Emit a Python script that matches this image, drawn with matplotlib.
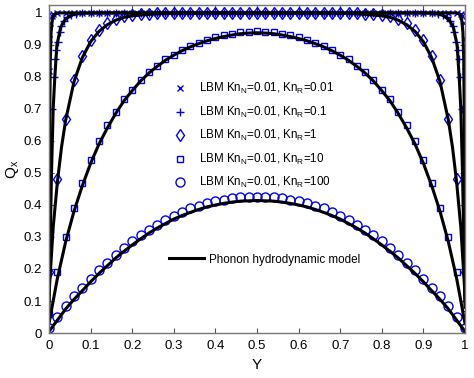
import numpy as np
import matplotlib
matplotlib.use("Agg")
from matplotlib import pyplot as plt

plt.rcParams['font.family'] = ['Liberation Sans', 'DejaVu Sans']
plt.rcParams['mathtext.fontset'] = 'custom'
plt.rcParams['mathtext.rm'] = 'Liberation Sans'
plt.rcParams['mathtext.it'] = 'Liberation Sans:italic'

# сетка LBM (шаг 0.02)
y_grid = [0.00, 0.02, 0.04, 0.06, 0.08, 0.10, 0.12, 0.14, 0.16, 0.18,
          0.20, 0.22, 0.24, 0.26, 0.28, 0.30, 0.32, 0.34, 0.36, 0.38,
          0.40, 0.42, 0.44, 0.46, 0.48, 0.50, 0.52, 0.54, 0.56, 0.58,
          0.60, 0.62, 0.64, 0.66, 0.68, 0.70, 0.72, 0.74, 0.76, 0.78,
          0.80, 0.82, 0.84, 0.86, 0.88, 0.90, 0.92, 0.94, 0.96, 0.98, 1.00]
y_mid = y_grid[6:45]   # 0.12 ... 0.88
q_mid = [1.0, 1.0, 1.0, 1.0, 1.0, 1.0, 1.0, 1.0, 1.0, 1.0,
         1.0, 1.0, 1.0, 1.0, 1.0, 1.0, 1.0, 1.0, 1.0, 1.0,
         1.0, 1.0, 1.0, 1.0, 1.0, 1.0, 1.0, 1.0, 1.0, 1.0,
         1.0, 1.0, 1.0, 1.0, 1.0, 1.0, 1.0, 1.0, 1.0]

# LBM, Kn_R = 0.01 (крестики)
y_r001 = [0.0, 0.001, 0.003, 0.006, 0.01, 0.02, 0.04, 0.06, 0.08, 0.10] + y_mid + \
         [0.90, 0.92, 0.94, 0.96, 0.98, 0.99, 0.994, 0.997, 0.999, 1.0]
q_r001 = [0.82, 0.92, 0.97, 0.99, 0.997, 1.0, 1.0, 1.0, 1.0, 1.0] + q_mid + \
         [1.0, 1.0, 1.0, 1.0, 1.0, 0.997, 0.99, 0.97, 0.92, 0.82]

# LBM, Kn_R = 0.1 (плюсы)
y_r01 = [0.008, 0.011, 0.014, 0.018, 0.022, 0.026, 0.03, 0.036, 0.044, 0.054, 0.066, 0.08, 0.10] + y_mid + \
        [0.90, 0.92, 0.934, 0.946, 0.956, 0.964, 0.97, 0.974, 0.978, 0.982, 0.986, 0.989, 0.992]
q_r01 = [0.70, 0.80, 0.855, 0.885, 0.91, 0.94, 0.96, 0.975, 0.986, 0.993, 0.997, 0.999, 1.0] + q_mid + \
        [1.0, 0.999, 0.997, 0.993, 0.986, 0.975, 0.96, 0.94, 0.91, 0.885, 0.855, 0.80, 0.70]

# LBM, Kn_R = 1 (ромбы)
q_r1 = [0.19, 0.48, 0.67, 0.79, 0.865, 0.915, 0.947, 0.968, 0.982, 0.99,
        0.994, 0.997, 0.998, 0.999, 1.0, 1.0, 1.0, 1.0, 1.0, 1.0,
        1.0, 1.0, 1.0, 1.0, 1.0, 1.0, 1.0, 1.0, 1.0, 1.0,
        1.0, 1.0, 1.0, 1.0, 1.0, 1.0, 1.0, 0.999, 0.998, 0.997,
        0.994, 0.99, 0.982, 0.968, 0.947, 0.915, 0.865, 0.79, 0.67, 0.48, 0.19]

# LBM, Kn_R = 10 (квадраты)
q_r10 = [0.06, 0.19, 0.30, 0.39, 0.47, 0.54, 0.60, 0.65, 0.69, 0.73,
         0.76, 0.79, 0.815, 0.835, 0.855, 0.87, 0.885, 0.897, 0.907, 0.916,
         0.924, 0.93, 0.935, 0.939, 0.941, 0.942, 0.941, 0.939, 0.935, 0.93,
         0.924, 0.916, 0.907, 0.897, 0.885, 0.87, 0.855, 0.835, 0.815, 0.79,
         0.76, 0.73, 0.69, 0.65, 0.60, 0.54, 0.47, 0.39, 0.30, 0.19, 0.06]

# LBM, Kn_R = 100 (кружки)
q_r100 = [0.015, 0.05, 0.085, 0.115, 0.142, 0.170, 0.196, 0.220, 0.245, 0.266,
          0.286, 0.305, 0.323, 0.339, 0.353, 0.367, 0.379, 0.389, 0.398, 0.406,
          0.412, 0.417, 0.421, 0.424, 0.425, 0.426, 0.425, 0.424, 0.421, 0.417,
          0.412, 0.406, 0.398, 0.389, 0.379, 0.367, 0.353, 0.339, 0.323, 0.305,
          0.286, 0.266, 0.245, 0.220, 0.196, 0.170, 0.142, 0.115, 0.085, 0.05, 0.015]

# фононная гидродинамическая модель (сплошные линии)
ym_001 = [0.0, 0.001, 0.002, 0.003, 0.005, 0.008, 0.012, 0.02, 0.5,
          0.98, 0.988, 0.992, 0.995, 0.997, 0.998, 0.999, 1.0]
qm_001 = [0.10, 0.40, 0.70, 0.85, 0.94, 0.98, 0.995, 1.0, 1.0,
          1.0, 0.995, 0.98, 0.94, 0.85, 0.70, 0.40, 0.10]
ym_01 = [0.0, 0.003, 0.006, 0.008, 0.01, 0.014, 0.019, 0.028, 0.038, 0.05, 0.06, 0.08, 0.10, 0.5,
         0.90, 0.92, 0.94, 0.95, 0.962, 0.972, 0.981, 0.986, 0.99, 0.992, 0.994, 0.997, 1.0]
qm_01 = [0.08, 0.30, 0.50, 0.60, 0.70, 0.80, 0.90, 0.955, 0.978, 0.99, 0.996, 0.999, 1.0, 1.0,
         1.0, 0.999, 0.996, 0.99, 0.978, 0.955, 0.90, 0.80, 0.70, 0.60, 0.50, 0.30, 0.08]
ym_1 = [0.0, 0.01, 0.02, 0.03, 0.04, 0.06, 0.08, 0.10, 0.12, 0.14, 0.16, 0.18, 0.20, 0.25, 0.30, 0.40,
        0.50, 0.60, 0.70, 0.75, 0.80, 0.82, 0.84, 0.86, 0.88, 0.90, 0.92, 0.94, 0.96, 0.97, 0.98, 0.99, 1.0]
qm_1 = [0.12, 0.33, 0.47, 0.58, 0.665, 0.785, 0.86, 0.91, 0.942, 0.963, 0.977, 0.986, 0.991, 0.997, 0.999, 1.0,
        1.0, 1.0, 0.999, 0.997, 0.991, 0.986, 0.977, 0.963, 0.942, 0.91, 0.86, 0.785, 0.665, 0.58, 0.47, 0.33, 0.12]
qm_10 = [0.03, 0.17, 0.285, 0.38, 0.46, 0.53, 0.59, 0.64, 0.685, 0.725,
         0.757, 0.787, 0.812, 0.833, 0.852, 0.868, 0.882, 0.894, 0.904, 0.913,
         0.92, 0.926, 0.931, 0.935, 0.937, 0.938, 0.937, 0.935, 0.931, 0.926,
         0.92, 0.913, 0.904, 0.894, 0.882, 0.868, 0.852, 0.833, 0.812, 0.787,
         0.757, 0.725, 0.685, 0.64, 0.59, 0.53, 0.46, 0.38, 0.285, 0.17, 0.03]
qm_100 = [0.005, 0.04, 0.075, 0.105, 0.132, 0.16, 0.186, 0.21, 0.234, 0.255,
          0.275, 0.294, 0.312, 0.328, 0.342, 0.356, 0.367, 0.377, 0.386, 0.394,
          0.400, 0.405, 0.409, 0.412, 0.413, 0.414, 0.413, 0.412, 0.409, 0.405,
          0.400, 0.394, 0.386, 0.377, 0.367, 0.356, 0.342, 0.328, 0.312, 0.294,
          0.275, 0.255, 0.234, 0.21, 0.186, 0.16, 0.132, 0.105, 0.075, 0.04, 0.005]

labels = ['LBM Kn$_\\mathrm{N}$=0.01, Kn$_\\mathrm{R}$=0.01',
          'LBM Kn$_\\mathrm{N}$=0.01, Kn$_\\mathrm{R}$=0.1',
          'LBM Kn$_\\mathrm{N}$=0.01, Kn$_\\mathrm{R}$=1',
          'LBM Kn$_\\mathrm{N}$=0.01, Kn$_\\mathrm{R}$=10',
          'LBM Kn$_\\mathrm{N}$=0.01, Kn$_\\mathrm{R}$=100']
ticks = [0, 0.1, 0.2, 0.3, 0.4, 0.5, 0.6, 0.7, 0.8, 0.9, 1]
tick_labels = ['0', '0.1', '0.2', '0.3', '0.4', '0.5', '0.6', '0.7', '0.8', '0.9', '1']

blue = '#0000ee'
fig = plt.figure(figsize=(4.74, 3.78), dpi=100)
ax = fig.add_axes([0.1034, 0.119, 0.8776, 0.868])

# точки LBM
h1, = ax.plot(y_r001, q_r001, 'x', color=blue, ms=4.5, mew=1, label=labels[0])
h2, = ax.plot(y_r01, q_r01, '+', color=blue, ms=6, mew=1, label=labels[1])
h3, = ax.plot(y_grid, q_r1, 'd', color=blue, mfc='none', ms=6.5, mew=1, label=labels[2])
h4, = ax.plot(y_grid, q_r10, 's', color=blue, mfc='none', ms=4.5, mew=1, label=labels[3])
h5, = ax.plot(y_grid, q_r100, 'o', color=blue, mfc='none', ms=6.5, mew=1, label=labels[4])

# линии модели
hl, = ax.plot(ym_001, qm_001, 'k-', lw=2.2, label='Phonon hydrodynamic model')
ax.plot(ym_01, qm_01, 'k-', lw=2.2)
ax.plot(ym_1, qm_1, 'k-', lw=2.2)
ax.plot(y_grid, qm_10, 'k-', lw=2.2)
ax.plot(y_grid, qm_100, 'k-', lw=2.2)

ax.set_xlim(0, 1)
ax.set_ylim(0, 1.025)
ax.set_xticks(ticks)
ax.set_xticklabels(tick_labels)
ax.set_yticks(ticks)
ax.set_yticklabels(tick_labels)
ax.tick_params(direction='in', top=True, right=True, labelsize=9.5, length=3.5,
               color='#555555', width=0.8, pad=5)
for s in ax.spines.values():
    s.set_color('#777777')
    s.set_linewidth(1)

ax.set_xlabel('Y', fontsize=11, labelpad=4)
ax.set_ylabel('Q$_\\mathrm{x}$', fontsize=11)
ax.yaxis.set_label_coords(-0.068, 0.5)

leg1 = ax.legend(handles=[h1, h2, h3, h4, h5], loc='upper left', bbox_to_anchor=(0.283, 0.785),
                 frameon=False, fontsize=8.4, handlelength=1.2, handletextpad=1.1,
                 labelspacing=0.72, borderpad=0)
ax.add_artist(leg1)
ax.legend(handles=[hl], loc='upper left', bbox_to_anchor=(0.275, 0.26), frameon=False,
          fontsize=8.4, handlelength=3.0, handletextpad=0.45, borderpad=0)

plt.savefig('out.png', dpi=100)
